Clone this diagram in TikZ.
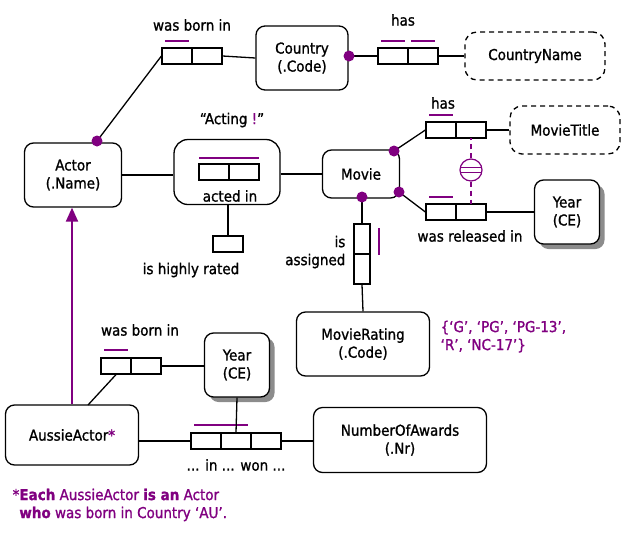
\documentclass[tikz,border=0pt]{standalone}
\usepackage{fontspec}
\setmainfont{DejaVu Sans Condensed}[FakeBold=1.2,BoldFont={DejaVu Sans Condensed Bold}]
\usetikzlibrary{arrows.meta,shadows}
\definecolor{pu}{HTML}{800080}
\begin{document}
\begin{tikzpicture}[x=1pt,y=-1pt,line width=1.3pt,
  font=\fontsize{15}{18}\selectfont,
  ent/.style={draw,rounded corners=9pt,minimum width=#1,minimum height=64pt,align=center,inner sep=2pt},
  ent/.default=90pt,
  val/.style={draw,dash pattern=on 5pt off 4pt,rounded corners=12pt,minimum height=48pt,align=center},
  cell/.style={draw,minimum width=30pt,minimum height=16pt,inner sep=0pt,line width=1.2pt},
  vcell/.style={draw,minimum width=16pt,minimum height=30pt,inner sep=0pt,line width=1.2pt},
  ubar/.style={pu,line width=1.5pt},
  dot/.style={circle,fill=pu,inner sep=0pt,minimum size=11pt},
  shad/.style={drop shadow={shadow xshift=5pt,shadow yshift=-5pt,fill=black!45,opacity=1}},
  lbl/.style={inner sep=1pt}]
\useasboundingbox (0,0) rectangle (631,544);
% entities
\node[ent=97pt] (actor) at (73,175) {Actor\\(.Name)};
\node[ent=92pt] (country) at (302,58) {Country\\(.Code)};
\node[val,minimum width=140pt] (cname) at (535,56) {CountryName};
\node[ent=77pt,minimum height=48pt] (movie) at (361,174) {Movie};
\node[val,minimum width=110pt] (mtitle) at (565,130) {MovieTitle};
\node[ent=65pt,shad,fill=white] (year1) at (567,212) {Year\\(CE)};
\node[ent=133pt] (rating) at (363,344) {MovieRating\\(.Code)};
\node[ent=133pt,minimum height=60pt] (aussie) at (72,435) {AussieActor\textcolor{pu}{*}};
\node[ent=65pt,shad,fill=white] (year2) at (237,365) {Year\\(CE)};
\node[ent=173pt,minimum height=65pt] (awards) at (400,440) {NumberOfAwards\\(.Nr)};
% objectified
\node[draw,rounded corners=14pt,minimum width=106pt,minimum height=65pt] (acting) at (227,172) {};
\node[lbl] at (232,120) {“Acting \textcolor{pu}{!}”};
\node[cell] (ai1) at (214,172) {};
\node[cell] (ai2) at (244,172) {};
\draw[ubar] (199,158) -- (259,158);
\node[lbl] at (230,196) {acted in};
% born in top
\node[cell] (b1) at (177,56) {};
\node[cell] (b2) at (207,56) {};
\draw[ubar] (165,41) -- (189,41);
\node[lbl] at (192,25) {was born in};
% country has
\node[cell] (ch1) at (393,56) {};
\node[cell] (ch2) at (423,56) {};
\draw[ubar] (381,41) -- (405,41);
\draw[ubar] (411,41) -- (435,41);
\node[lbl] at (403,20) {has};
% movie has title
\node[cell] (mh1) at (441,130) {};
\node[cell] (mh2) at (471,130) {};
\draw[ubar] (429,115) -- (453,115);
\node[lbl] at (443,103) {has};
% released
\node[cell] (r1) at (441,212) {};
\node[cell] (r2) at (471,212) {};
\draw[ubar] (429,197) -- (453,197);
\node[lbl] at (470,236) {was released in};
% external uniqueness
\node[circle,draw=pu,line width=1.2pt,minimum size=22pt,inner sep=0pt] (eq) at (471,170) {};
\draw[pu,line width=1.2pt] (460,167.5) -- (482,167.5) (460,172.5) -- (482,172.5);
\draw[pu,dash pattern=on 5pt off 4pt,line width=1.2pt] (eq.north) -- (471,138) (eq.south) -- (471,204);
% assigned
\node[vcell] (as1) at (362,239) {};
\node[vcell] (as2) at (362,269) {};
\draw[ubar] (379,228) -- (379,255);
\node[lbl,align=right,anchor=east] at (347,252) {is\\assigned};
\node[pu,align=left,anchor=north west,inner sep=0pt] at (440,320) {\{‘G’, ‘PG’, ‘PG-13’,\\‘R’, ‘NC-17’\}};
% highly rated
\node[cell] (hr) at (228,244) {};
\node[lbl] at (191,270) {is highly rated};
% born in bottom
\node[cell] (bb1) at (116,366) {};
\node[cell] (bb2) at (146,366) {};
\draw[ubar] (104,350) -- (128,350);
\node[lbl] at (140,330) {was born in};
% ternary
\node[cell] (t1) at (206,441) {};
\node[cell] (t2) at (236,441) {};
\node[cell] (t3) at (266,441) {};
\draw[ubar] (194,425) -- (248,425);
\node[lbl] at (236,465) {... in ... won ...};
% footnote
\node[pu,align=left,anchor=north west,inner sep=0pt] at (12,488) {*\textbf{Each} AussieActor \textbf{is an} Actor\\\hphantom{*}\textbf{who} was born in Country ‘AU’.};
% connectors
\coordinate (da) at (97,141);
\draw (da) -- (b1.west);
\node[dot] at (da) {};
\draw (b2.east) -- (country.west);
\coordinate (dc) at (349,56);
\draw (dc) -- (ch1.west); \draw (ch2.east) -- (cname.west);
\node[dot] at (dc) {};
\draw (actor.east) -- (actor.east -| acting.west);
\draw (acting.east |- movie.west) -- (movie.west);
\draw (acting.south -| hr.north) -- (hr.north);
\coordinate (dm1) at (394,151); \coordinate (dm2) at (399,192); \coordinate (dm3) at (362,197);
\draw (dm1) -- (mh1.west); \draw (mh2.east) -- (mtitle.west);
\draw (dm2) -- (r1.west); \draw (r2.east) -- (year1.west |- r2.east);
\draw (dm3) -- (as1.north); \draw (as2.south) -- (rating.north);
\node[dot] at (dm1) {}; \node[dot] at (dm2) {}; \node[dot] at (dm3) {};
\draw[pu,line width=2pt,-{Triangle[length=14pt,width=12pt]}] (aussie.north -| 72,0) -- (actor.south -| 72,0);
\draw (88,405) -- (bb1.south);
\draw (bb2.east) -- (year2.west |- bb2.east);
\draw (year2.south) -- (t2.north);
\draw (aussie.east |- t1.west) -- (t1.west);
\draw (t3.east) -- (awards.west |- t3.east);
\end{tikzpicture}
\end{document}
